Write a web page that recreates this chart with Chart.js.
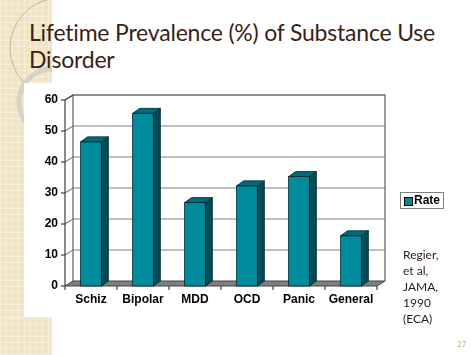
<!DOCTYPE html>
<html><head><meta charset="utf-8">
<script src="https://cdn.jsdelivr.net/npm/chart.js@4/dist/chart.umd.min.js"></script>
<style>
html,body{margin:0;padding:0;background:#fff;}
#page{position:relative;width:474px;height:355px;overflow:hidden;background:#fff;}
.beige{position:absolute;background-color:#f2e4c0;
 background-image:repeating-linear-gradient(0deg,rgba(255,255,255,0.35) 0 1px,transparent 1px 6px),repeating-linear-gradient(90deg,rgba(255,255,255,0.35) 0 1px,transparent 1px 6px);}
#title{position:absolute;left:29px;top:19px;font-family:Lato,"Open Sans",sans-serif;font-size:23px;line-height:27px;color:#3b1e16;letter-spacing:-0.2px;}
#white{position:absolute;left:24px;top:83px;width:450px;height:234px;background:#fff;}
#c{position:absolute;left:0;top:0;}
#legend{position:absolute;left:400px;top:192px;width:42px;height:15px;border:1px solid #7f7f7f;background:#fff;font:bold 12px "Liberation Sans",Arial,sans-serif;color:#000;}
#legend .sw{position:absolute;left:3px;top:4px;width:7px;height:7px;background:#00899a;border:1px solid #000;}
#legend .tx{position:absolute;left:13px;top:0px;line-height:15px;}
#note{position:absolute;left:403px;top:247px;font-family:Lato,"Open Sans",sans-serif;font-size:12px;line-height:16px;color:#2a1a14;}
#pg{position:absolute;left:457px;top:339px;font-family:Lato,sans-serif;font-size:8px;color:#c8b27a;}
</style></head>
<body><div id="page">
<div class="beige" style="left:0;top:0;width:52px;height:83px"></div>
<div class="beige" style="left:0;top:83px;width:24px;height:234px"></div>
<div class="beige" style="left:0;top:317px;width:52px;height:38px"></div>
<svg style="position:absolute;left:0;top:0" width="474" height="355">
 <defs><clipPath id="cp"><rect x="0" y="0" width="52" height="355"/></clipPath></defs>
 <g clip-path="url(#cp)">
 <circle cx="60" cy="48" r="50" fill="none" stroke="#b9ab8c" stroke-width="0.8"/>
 <circle cx="52" cy="102" r="33" fill="none" stroke="#d6d2c8" stroke-width="5"/>
 </g>
</svg>
<div id="white"></div>
<div id="title">Lifetime Prevalence (%) of Substance Use<br>Disorder</div>
<canvas id="c" width="474" height="355"></canvas>
<div id="legend"><div class="sw"></div><div class="tx" id="legtx"></div></div>
<div id="note">Regier,<br>et al,<br>JAMA,<br>1990<br>(ECA)</div>
<div id="pg">27</div>
</div>
<script>
const categories = ["Schiz","Bipolar","MDD","OCD","Panic","General"];
const seriesName = "Rate";
const rateValues = [46.5, 55.7, 26.9, 32.3, 35.3, 16.2];
const yTicks = [0,10,20,30,40,50,60];

document.getElementById('legtx').textContent = seriesName;

const DX = 8, DY = -5, BD = 7, BDY = -5;

const threeD = {
  id:'threeD',
  beforeDatasetsDraw(chart){
    const ctx = chart.ctx, a = chart.chartArea, ys = chart.scales.y;
    ctx.save();
    const y0 = ys.getPixelForValue(0);
    ctx.beginPath();
    ctx.moveTo(a.left, y0); ctx.lineTo(a.right, y0);
    ctx.lineTo(a.right+DX, y0+DY); ctx.lineTo(a.left+DX, y0+DY); ctx.closePath();
    ctx.fillStyle = '#808080'; ctx.fill();
    ctx.strokeStyle = '#404040'; ctx.lineWidth = 1; ctx.stroke();
    ctx.lineWidth = 1.2;
    yTicks.forEach(v=>{
      const y = ys.getPixelForValue(v);
      if (v>0){
        ctx.strokeStyle = '#808080';
        ctx.beginPath();
        ctx.moveTo(a.left, y); ctx.lineTo(a.left+DX, y+DY); ctx.lineTo(a.right+DX, y+DY);
        ctx.stroke();
      }
      ctx.strokeStyle='#404040';
      ctx.beginPath(); ctx.moveTo(a.left-4, y); ctx.lineTo(a.left, y); ctx.stroke();
    });
    const yTop = ys.getPixelForValue(60);
    ctx.strokeStyle = '#606060';
    ctx.beginPath();
    ctx.moveTo(a.left+DX, y0+DY); ctx.lineTo(a.left+DX, yTop+DY); ctx.lineTo(a.right+DX, yTop+DY); ctx.lineTo(a.right+DX, y0+DY);
    ctx.stroke();
    ctx.strokeStyle = '#404040';
    ctx.beginPath(); ctx.moveTo(a.left, y0); ctx.lineTo(a.left, yTop); ctx.lineTo(a.left+DX, yTop+DY); ctx.stroke();
    for (let i=0;i<=categories.length;i++){
      const x = a.left + (a.right-a.left)*i/categories.length;
      ctx.beginPath(); ctx.moveTo(x, y0); ctx.lineTo(x, y0+4); ctx.stroke();
    }
    ctx.restore();
  },
  afterDatasetsDraw(chart){
    const ctx = chart.ctx;
    const meta = chart.getDatasetMeta(0);
    ctx.save();
    meta.data.forEach(bar=>{
      const l = bar.x - bar.width/2, r = bar.x + bar.width/2, t = bar.y, b = bar.base;
      ctx.beginPath();
      ctx.moveTo(r,b); ctx.lineTo(r+BD,b+BDY); ctx.lineTo(r+BD,t+BDY); ctx.lineTo(r,t); ctx.closePath();
      ctx.fillStyle='#004b55'; ctx.fill(); ctx.strokeStyle='#002a30'; ctx.lineWidth=0.8; ctx.stroke();
      ctx.beginPath();
      ctx.moveTo(l,t); ctx.lineTo(l+BD,t+BDY); ctx.lineTo(r+BD,t+BDY); ctx.lineTo(r,t); ctx.closePath();
      ctx.fillStyle='#006c78'; ctx.fill(); ctx.stroke();
      ctx.strokeRect(l,t,r-l,b-t);
    });
    ctx.restore();
  }
};

new Chart(document.getElementById('c'),{
  type:'bar',
  data:{labels:categories,datasets:[{label:seriesName,data:rateValues,backgroundColor:'#008c9c',borderWidth:0,barPercentage:0.4,categoryPercentage:1}]},
  options:{
    responsive:false,animation:false,devicePixelRatio:1,
    layout:{padding:{left:25,top:100,right:97,bottom:39}},
    plugins:{legend:{display:false},tooltip:{enabled:false}},
    scales:{
      x:{grid:{display:false,drawTicks:false},border:{display:false},
         ticks:{color:'#000',padding:6,font:{family:'"Liberation Sans",Arial',weight:'bold',size:12}},
         afterFit(s){s.height=30;}},
      y:{min:0,max:60,grid:{display:false,drawTicks:false},border:{display:false},
         ticks:{stepSize:10,color:'#000',padding:7,font:{family:'"Liberation Sans",Arial',weight:'bold',size:12}},
         afterFit(s){s.width=40;}}
    }
  },
  plugins:[threeD]
});
</script>
</body></html>
